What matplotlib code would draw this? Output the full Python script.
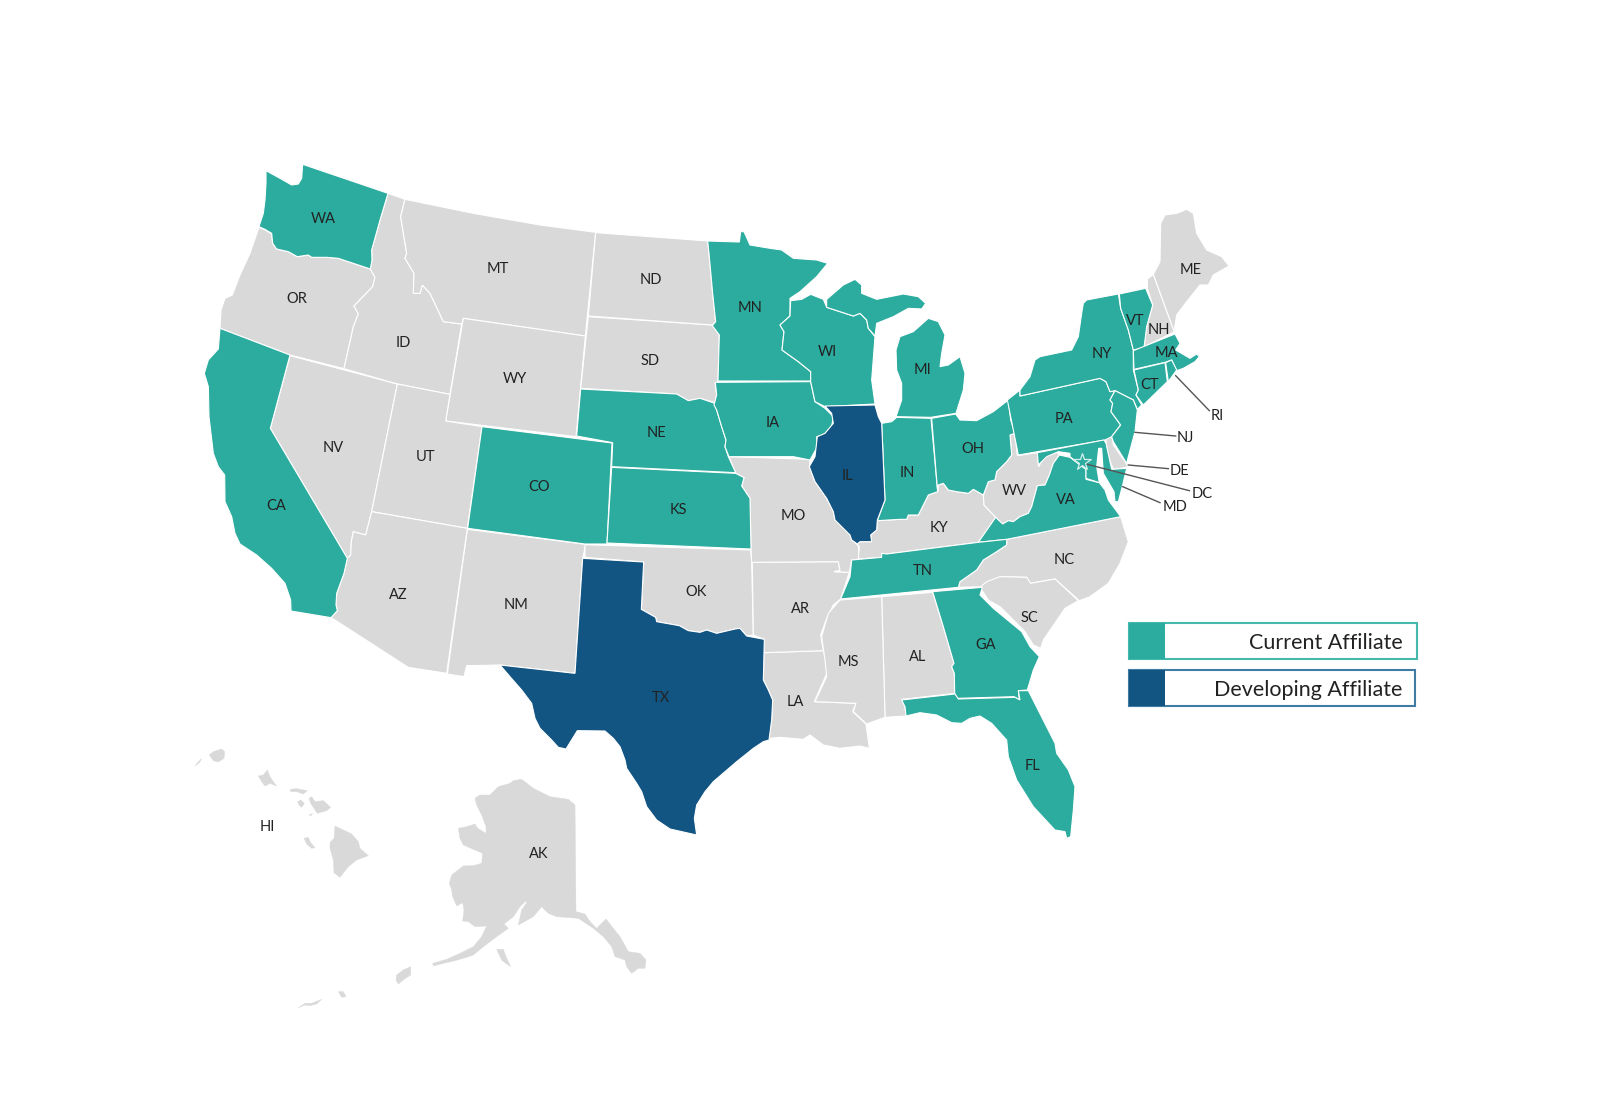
import matplotlib
matplotlib.use("Agg")
import matplotlib.pyplot as plt
from matplotlib.patches import Polygon, Rectangle

plt.rcParams['font.family'] = ['Lato', 'DejaVu Sans']

TEAL = '#2BAC9E'
NAVY = '#135582'
GREY = '#D9D9D9'
TEXT = '#222222'

# These are the top left corners of the crops in the full picture.
WEST = (190, 150)
SOUTHWEST = (190, 400)
CENTRAL = (560, 210)
SOUTH = (480, 530)
EAST = (800, 400)
GULF = (780, 580)
NORTHEAST = (1000, 180)
PACIFIC = (180, 720)

# West
WA = [(228,62),(270,85),(305,105),(325,102),(335,85),(338,43),(594,130),(570,210),(545,300),(546,330),(541,357),(445,325),(410,322),(365,322),(355,315),(322,320),(295,305),(260,297),(248,280),(245,250),(225,238),(207,230),(220,190),(225,150),(228,100)]
OR = [(207,232),(225,240),(245,252),(248,280),(260,297),(295,305),(322,320),(355,315),(365,322),(410,322),(445,325),(541,357),(555,382),(548,410),(492,468),(505,492),(490,530),(462,656),(300,615),(90,535),(93,480),(105,445),(127,435),(150,375),(180,310)]
CA = [(90,535),(300,615),(241,835),(472,1225),(462,1270),(440,1330),(438,1365),(442,1382),(423,1403),(303,1383),(302,1350),(285,1300),(245,1255),(200,1215),(150,1182),(135,1150),(125,1100),(105,1055),(104,975),(85,950),(70,910),(57,800),(55,710),(43,670),(55,630),(85,597)]
NV = [(300,617),(622,702),(545,1085),(527,1155),(490,1145),(484,1175),(482,1215),(472,1225),(241,835)]
ID = [(594,130),(645,148),(632,200),(650,310),(645,325),(672,370),(670,430),(690,430),(697,405),(720,430),(760,515),(815,522),(780,733),(622,702),(462,656),(490,530),(505,492),(492,468),(548,410),(555,382),(541,357),(546,330),(545,300),(570,210)]
MT = [(645,148),(850,190),(1050,225),(1217,247),(1186,558),(820,505),(815,522),(760,515),(720,430),(697,405),(690,430),(670,430),(672,370),(645,325),(650,310),(632,200)]
WY = [(820,505),(1186,558),(1158,860),(767,813)]
UT = [(622,702),(780,733),(767,813),(876,830),(832,1135),(545,1085)]

# Southwest
CO = [(876,80),(1266,129),(1251,432),(1185,432),(833,385)]
NM = [(832,388),(1187,433),(1178,475),(1155,820),(930,795),(830,797),(822,830),(772,822)]
AZ = [(545,335),(832,385),(770,820),(655,802),(435,660),(423,653),(442,632),(438,615),(440,580),(462,520),(472,475),(482,465),(484,425),(490,395),(527,405)]

# South central
TX = [(308,85),(491,96),(484,238),(527,262),(530,275),(598,287),(625,302),(660,307),(680,300),(710,310),(765,297),(780,295),(800,318),(853,328),(850,450),(865,480),(878,510),(875,570),(867,630),(850,635),(820,655),(770,695),(700,755),(675,785),(650,825),(643,865),(650,915),(570,897),(530,870),(500,830),(485,785),(470,760),(440,715),(435,690),(420,650),(400,625),(375,603),(292,602),(258,657),(235,652),(215,630),(180,595),(165,565),(155,520),(125,480),(90,440),(60,405),(285,430)]
OK = [(315,44),(812,60),(815,97),(820,315),(800,318),(780,295),(765,297),(710,310),(680,300),(660,307),(625,302),(598,287),(530,275),(527,262),(484,238),(491,96),(315,82)]
LA = [(852,368),(1030,362),(1045,420),(1003,515),(1128,520),(1118,545),(1158,582),(1168,655),(1140,648),(1080,655),(1030,645),(990,615),(970,628),(900,622),(867,625),(875,570),(878,510),(865,480),(850,450)]
AR = [(817,97),(1075,95),(1080,122),(1062,125),(1108,127),(1082,207),(1060,225),(1040,265),(1022,315),(1030,362),(852,368),(853,328),(820,315)]
MO = [(747,-220),(990,-212),(988,-190),(1005,-145),(1040,-95),(1060,-55),(1065,-30),(1110,5),(1115,30),(1135,47),(1138,87),(1115,90),(1108,127),(1062,125),(1080,122),(1075,95),(815,97),(813,57),(810,-95),(785,-132),(792,-157),(767,-170)]

# Plains and upper midwest
KS = [(155,772),(527,790),(552,803),(545,828),(570,865),(573,1017),(141,999)]
NE = [(62,537),(350,552),(385,572),(420,565),(465,580),(470,600),(485,650),(498,690),(495,710),(505,740),(527,788),(155,770),(158,698),(50,678)]
SD = [(85,320),(457,345),(478,375),(474,515),(465,520),(470,555),(465,578),(420,565),(385,572),(350,552),(62,535)]
ND = [(107,68),(443,93),(447,130),(458,250),(467,335),(457,345),(85,318)]
MN = [(443,93),(538,96),(542,65),(552,65),(570,105),(630,115),(665,120),(700,145),(770,150),(803,160),(770,200),(720,245),(690,265),(690,318),(660,345),(672,365),(666,420),(715,455),(752,485),(752,513),(474,513),(478,375),(457,347),(467,335),(458,250),(447,130)]
IA = [(466,517),(752,515),(765,575),(795,595),(820,620),(815,650),(790,675),(770,680),(772,710),(750,750),(700,740),(507,740),(495,710),(498,690),(485,650),(470,600),(462,585),(470,555)]
WI = [(692,272),(725,268),(752,253),(790,268),(800,292),(880,318),(900,310),(920,330),(925,355),(945,380),(935,510),(945,582),(795,590),(765,575),(752,515),(752,485),(715,455),(666,420),(672,365),(660,345),(690,318)]
MI_UPPER = [(800,268),(850,225),(885,208),(905,225),(905,250),(950,268),(1030,252),(1075,260),(1097,280),(1085,297),(1045,295),(1000,320),(950,340),(945,378),(925,355),(920,330),(900,310),(880,318),(800,292)]
MI_LOWER = [(1105,325),(1135,335),(1155,375),(1145,430),(1140,470),(1165,465),(1200,440),(1215,490),(1210,540),(1188,610),(1112,622),(1008,620),(1025,570),(1025,520),(1010,480),(1008,420),(1020,380),(1060,365)]

# Ohio valley and southeast
IL = [(75,18),(225,15),(235,50),(245,70),(255,300),(232,360),(230,390),(212,405),(215,425),(180,425),(172,432),(155,420),(150,405),(105,360),(100,335),(80,295),(45,245),(28,200),(45,170),(52,110),(75,100),(100,70),(95,40)]
IN = [(245,70),(275,65),(290,52),(393,55),(413,275),(385,285),(355,345),(325,345),(320,358),(300,358),(232,362),(255,300)]
OH = [(395,55),(467,42),(480,60),(530,62),(580,35),(625,0),(632,60),(645,100),(630,105),(635,165),(620,185),(590,215),(585,240),(565,245),(550,285),(520,268),(505,280),(470,275),(445,270),(430,250),(415,255),(413,275)]
KY = [(415,255),(430,250),(445,270),(470,275),(505,280),(520,268),(550,285),(552,315),(587,352),(535,427),(260,462),(245,460),(245,472),(175,477),(178,440),(172,432),(180,425),(215,425),(212,405),(230,390),(232,362),(300,358),(320,358),(325,345),(355,345),(385,285),(413,275)]
WV = [(652,167),(712,158),(716,200),(735,165),(770,155),(778,165),(760,190),(748,225),(735,255),(712,257),(695,320),(685,340),(660,350),(640,365),(625,362),(608,372),(587,352),(552,315),(550,285),(565,245),(585,240),(590,215),(620,185),(635,165),(630,105),(645,100)]
VA = [(962,350),(620,418),(535,427),(587,352),(608,372),(625,362),(640,365),(660,350),(685,340),(695,320),(712,257),(735,255),(748,225),(760,190),(778,165),(810,172),(820,180),(858,208),(858,238),(898,248),(915,270),(925,300)]
TN = [(155,480),(245,472),(245,460),(260,462),(535,427),(620,418),(620,435),(590,455),(550,480),(530,510),(480,545),(475,562),(122,597),(150,530)]
NC = [(962,350),(985,425),(960,490),(925,550),(870,590),(838,602),(765,537),(690,550),(680,532),(600,530),(550,560),(475,562),(480,545),(530,510),(550,480),(590,455),(620,435),(620,418)]
SC = [(540,562),(560,545),(600,530),(680,532),(692,550),(765,537),(835,602),(795,625),(730,720),(722,745),(700,735),(675,695),(600,620),(565,600)]
GA = [(458,35),(607,22),(600,45),(640,85),(725,155),(750,200),(778,230),(760,270),(742,330),(715,332),(718,360),(702,350),(532,355),(524,340),(523,280),(515,260),(522,250),(490,140)]
FL = [(365,360),(525,342),(535,357),(705,352),(720,360),(715,332),(745,332),(825,490),(830,520),(865,570),(885,620),(880,690),(872,770),(860,775),(855,755),(825,750),(760,680),(710,600),(685,530),(680,480),(635,430),(600,408),(570,415),(545,430),(515,428),(470,405),(420,398),(378,408),(375,380)]
AL = [(305,50),(458,37),(490,140),(522,250),(515,260),(523,280),(525,340),(365,358),(375,380),(378,408),(345,410),(315,412),(312,300)]
MS = [(180,60),(305,50),(312,300),(315,412),(260,432),(220,395),(228,370),(105,365),(140,290),(135,240),(125,170),(145,100)]

# Northeast
PA = [(60,648),(300,595),(318,605),(330,635),(345,632),(330,660),(338,670),(333,695),(362,735),(335,770),(315,780),(55,825),(40,750),(22,660),(60,630)]
NY = [(250,370),(260,360),(355,342),(362,385),(385,450),(400,510),(400,570),(415,630),(408,645),(425,675),(412,688),(400,660),(345,632),(330,635),(318,605),(300,595),(60,648),(60,630),(90,590),(105,540),(120,530),(215,510),(235,470),(245,400)]
VT = [(358,342),(437,325),(458,375),(440,440),(432,503),(400,510),(385,450),(362,385)]
NH = [(442,298),(460,283),(510,420),(525,455),(432,500),(440,440),(458,375),(442,325)]
ME = [(460,283),(480,245),(482,130),(495,105),(530,100),(560,88),(580,100),(590,160),(620,210),(665,230),(687,258),(640,285),(625,315),(600,315),(560,365),(530,405),(522,455),(510,420)]
MA = [(400,512),(525,462),(540,490),(527,510),(570,535),(590,522),(598,530),(585,545),(550,565),(530,572),(515,540),(495,547),(402,568)]
CT = [(402,570),(495,548),(502,605),(430,675),(408,645),(415,630)]
RI = [(497,548),(515,540),(530,570),(505,605)]
NJ = [(345,632),(400,660),(412,690),(405,755),(385,830),(380,850),(340,785),(335,770),(362,735),(333,695),(338,670),(330,660)]
DE = [(316,770),(335,760),(340,795),(382,855),(380,862),(340,868),(325,830)]
MD = [(112,818),(312,780),(318,790),(335,868),(380,865),(368,915),(355,965),(345,965),(342,935),(310,880),(305,805),(296,805),(290,860),(298,908),(258,895),(258,868),(235,850),(210,830),(210,820),(175,815),(140,830),(115,855)]

# Alaska and its islands
AK = [(885,235),(900,225),(930,225),(955,200),(990,190),(1000,182),(1025,178),(1060,205),(1110,230),(1165,238),(1185,255),(1188,575),(1215,582),(1230,605),(1250,625),(1278,597),(1300,625),(1320,650),(1345,695),(1380,700),(1398,720),(1395,745),(1375,745),(1355,760),(1340,740),(1335,720),(1305,710),(1295,680),(1270,650),(1240,625),(1195,595),(1130,590),(1105,580),(1085,560),(1060,590),(1015,615),(1025,570),(1042,545),(1035,545),(1020,560),(1000,590),(972,612),(985,625),(950,650),(910,680),(880,705),(860,712),(825,722),(790,730),(760,738),(758,730),(800,718),(840,700),(880,680),(905,650),(920,618),(885,620),(865,605),(848,603),(852,570),(848,548),(830,558),(818,530),(815,510),(808,490),(815,465),(850,438),(880,437),(905,430),(908,400),(880,388),(850,375),(840,355),(835,325),(860,320),(885,312),(893,325),(918,340),(918,320),(905,285),(890,255)]
AK_KODIAK = [(650,765),(670,750),(692,740),(692,765),(672,778),(655,792),(648,780)]
AK_MONTAGUE = [(950,688),(970,688),(978,710),(992,740),(975,728),(965,720)]
AK_UNALASKA = [(475,815),(490,815),(498,830),(485,832)]
AK_ATKA = [(355,863),(375,850),(395,850),(425,838),(410,852),(390,857),(375,855)]

# Hawaii
HI_BIG = [(465,318),(490,330),(515,342),(535,365),(540,385),(565,407),(530,420),(505,440),(480,472),(462,458),(460,420),(450,385),(450,368),(462,355)]
HI_MAUI = [(387,235),(395,230),(405,245),(430,242),(452,262),(440,272),(412,280),(400,262),(392,250)]
HI_MOLOKAI = [(330,208),(350,206),(382,212),(370,222),(350,215),(333,215)]
HI_OAHU = [(235,168),(250,165),(262,150),(270,170),(280,185),(290,198),(270,190),(255,198),(245,185)]
HI_KAUAI = [(88,105),(100,95),(125,87),(134,95),(132,115),(115,126),(100,122)]
HI_NIIHAU = [(45,138),(55,125),(65,116),(58,128)]
HI_LANAI = [(353,245),(362,240),(373,250),(365,262),(357,255)]
HI_KAHOOLAWE = [(388,285),(398,280),(392,288)]
HI_SMALL = [(372,355),(385,352),(392,368),(405,383),(395,385),(380,372)]

# affiliate status
grey_states = [(WEST, OR), (WEST, NV), (WEST, ID), (WEST, MT), (WEST, WY), (WEST, UT),
               (SOUTHWEST, NM), (SOUTHWEST, AZ), (SOUTH, OK), (SOUTH, LA), (SOUTH, AR), (SOUTH, MO),
               (CENTRAL, SD), (CENTRAL, ND), (EAST, KY), (EAST, WV), (EAST, NC), (EAST, SC),
               (GULF, AL), (GULF, MS), (NORTHEAST, NH), (NORTHEAST, ME), (NORTHEAST, DE)]
grey_islands = [(PACIFIC, AK), (PACIFIC, AK_KODIAK), (PACIFIC, AK_MONTAGUE), (PACIFIC, AK_UNALASKA), (PACIFIC, AK_ATKA),
                (PACIFIC, HI_BIG), (PACIFIC, HI_MAUI), (PACIFIC, HI_MOLOKAI), (PACIFIC, HI_OAHU), (PACIFIC, HI_KAUAI),
                (PACIFIC, HI_NIIHAU), (PACIFIC, HI_LANAI), (PACIFIC, HI_KAHOOLAWE), (PACIFIC, HI_SMALL)]
current_states = [(WEST, WA), (WEST, CA), (SOUTHWEST, CO), (CENTRAL, KS), (CENTRAL, NE), (CENTRAL, MN), (CENTRAL, IA),
                  (CENTRAL, WI), (CENTRAL, MI_UPPER), (CENTRAL, MI_LOWER), (EAST, IN), (EAST, OH), (EAST, VA), (EAST, TN),
                  (GULF, GA), (GULF, FL), (NORTHEAST, PA), (NORTHEAST, NY), (NORTHEAST, VT), (NORTHEAST, MA),
                  (NORTHEAST, CT), (NORTHEAST, RI), (NORTHEAST, NJ), (NORTHEAST, MD)]
developing_states = [(SOUTH, TX), (EAST, IL)]

# state labels, same crop pixels
labels_west = {'WA': (400,203), 'OR': (320,445), 'MT': (924,353), 'ID': (640,577), 'WY': (976,685), 'NV': (431,892), 'UT': (708,918)}
labels_southwest = {'CA': (257,315), 'CO': (1048,257), 'AZ': (626,582), 'NM': (977,611)}
labels_central = {'ND': (273,208), 'SD': (269,451), 'MN': (570,291), 'WI': (801,422), 'MI': (1087,476), 'NE': (288,665),
                  'IA': (639,635), 'IL': (862,796), 'IN': (1043,785), 'KS': (356,898), 'MO': (700,916)}
labels_south = {'OK': (647,182), 'AR': (961,233), 'TX': (543,500), 'LA': (945,514), 'MS': (1106,393)}
labels_east = {'OH': (518,145), 'KY': (417,382), 'TN': (369,510), 'NC': (793,478), 'SC': (688,650)}
labels_gulf = {'GA': (617,191), 'AL': (412,228), 'FL': (757,555)}
labels_northeast = {'ME': (572,268), 'VT': (406,420), 'NH': (478,447), 'NY': (305,518), 'MA': (498,517), 'CT': (450,613),
                    'PA': (192,713), 'RI': (652,704), 'NJ': (557,770), 'DE': (539,870), 'DC': (608,938), 'MD': (525,978),
                    'VA': (197,958), 'WV': (42,930)}
labels_pacific = {'HI': (262,317), 'AK': (1076,398)}

# leader lines for the small eastern states
leaders = [((527,587),(628,692)), ((405,757),(527,768)), ((385,855),(505,866)), ((262,853),(568,932)), ((368,920),(480,968))]
dc_star = (247, 847)


def to_full(crop, pts):
    # crop pixels -> picture pixels
    return [(crop[0] + x / 3, crop[1] + y / 3) for x, y in pts]


fig = plt.figure(figsize=(16, 11.2), dpi=100)
ax = fig.add_axes([0, 0, 1, 1])
ax.set_xlim(0, 1600)
ax.set_ylim(1120, 0)
ax.axis('off')

# Draw the states
for group, color in [(grey_states, GREY), (current_states, TEAL), (developing_states, NAVY)]:
    for crop, outline in group:
        ax.add_patch(Polygon(to_full(crop, outline), closed=True, facecolor=color, edgecolor='white', linewidth=0.8))
for crop, outline in grey_islands:
    ax.add_patch(Polygon(to_full(crop, outline), closed=True, facecolor=GREY, edgecolor=GREY, linewidth=0.3))

# DC star
star_x, star_y = to_full(NORTHEAST, [dc_star])[0]
ax.plot(star_x, star_y, marker='*', markersize=13, markerfacecolor=TEAL, markeredgecolor='#D5F0EC', markeredgewidth=0.9)

# Leader lines
for start, end in leaders:
    (x0, y0), (x1, y1) = to_full(NORTHEAST, [start, end])
    ax.plot([x0, x1], [y0, y1], color='#555555', linewidth=1.0)

# State labels
for crop, labels in [(WEST, labels_west), (SOUTHWEST, labels_southwest), (CENTRAL, labels_central), (SOUTH, labels_south),
                     (EAST, labels_east), (GULF, labels_gulf), (NORTHEAST, labels_northeast), (PACIFIC, labels_pacific)]:
    for name, pos in labels.items():
        x, y = to_full(crop, [pos])[0]
        ax.text(x, y + 1, name, fontsize=10.5, color=TEXT, ha='center', va='center')

# Legend
ax.add_patch(Rectangle((1128.5, 622.5), 288, 36.5, facecolor='white', edgecolor='#45B9AC', linewidth=1.5))
ax.add_patch(Rectangle((1128.5, 622.5), 36, 36.5, facecolor=TEAL, edgecolor='none'))
ax.text(1403, 643, 'Current Affiliate', fontsize=15.5, color=TEXT, ha='right', va='center')
ax.add_patch(Rectangle((1128.5, 669.5), 286, 36.5, facecolor='white', edgecolor='#3F7BA3', linewidth=1.5))
ax.add_patch(Rectangle((1128.5, 669.5), 36, 36.5, facecolor=NAVY, edgecolor='none'))
ax.text(1402, 690, 'Developing Affiliate', fontsize=15.5, color=TEXT, ha='right', va='center')

plt.savefig('out.png', dpi=100, facecolor='white')
